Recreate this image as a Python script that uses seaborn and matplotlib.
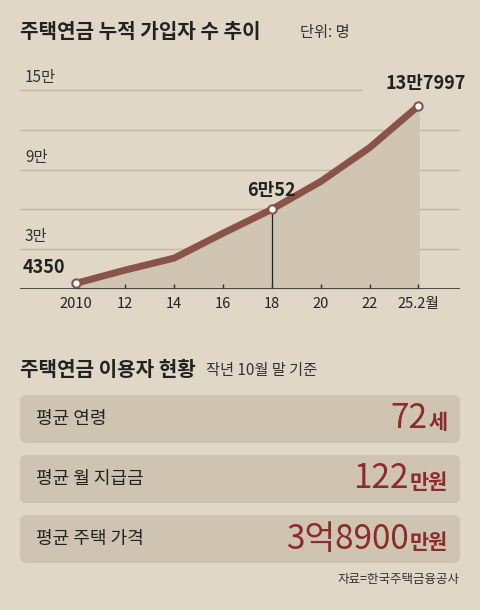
import matplotlib
matplotlib.use("Agg")
import matplotlib.pyplot as plt
import seaborn as sns
import pandas as pd
from matplotlib.patches import FancyBboxPatch

years = ["2010", "12", "14", "16", "18", "20", "22", "25.2월"]
members = [4350, 14250, 23250, 42000, 60052, 81000, 106500, 137997]
ytick_vals = [30000, 90000, 150000]
ytick_labels = ["3만", "9만", "15만"]
stat_labels = ["평균 연령", "평균 월 지급금", "평균 주택 가격"]
stat_nums = ["72", "122", "3억8900"]
stat_units = ["세", "만원", "만원"]

sns.set_theme(style="white")
plt.rcParams['font.family'] = ['Noto Sans CJK KR', 'DejaVu Sans']
BG = "#e0d7c6"
BOX = "#cfc4b1"
LINE = "#8a5349"
RED = "#8b2b2b"

df = pd.DataFrame({"x": range(len(years)), "y": members})
fig = plt.figure(figsize=(4.8, 6.1), dpi=100, facecolor=BG)
W, H = 480, 610
ax = fig.add_axes([20/W, (H-289)/H, 440/W, 199/H])
ax.set_facecolor(BG)
ax.set_xlim(-1.15, 7.85)
ax.set_ylim(0, 150000)
for v in [30000, 60000, 90000, 120000]:
    ax.axhline(v, color="#c2b7a4", lw=1, zorder=0)
ax.axhline(150000, xmax=(362-20)/440, color="#c2b7a4", lw=1, zorder=0, clip_on=False)
ax.fill_between(df["x"], df["y"], color="#d0c5b2", zorder=1)
sns.lineplot(data=df, x="x", y="y", ax=ax, color=LINE, lw=5, zorder=3)
for i in [0, 4, 7]:
    ax.plot(i, members[i], "o", ms=6, mfc="white", mec=LINE, mew=1.5, zorder=4)
ax.vlines(4, 0, members[4], color="#222222", lw=0.9, zorder=2)
for i in range(1, len(years)):
    ax.vlines(i, 0, 3500, color="#333333", lw=1, zorder=2)
ax.axhline(0, color="#333333", lw=1.2, zorder=5)
ax.set_xticks(range(len(years)))
ax.set_xticklabels(years, fontsize=10.5, color="#222222")
ax.tick_params(axis="x", length=0, pad=6)
ax.set_yticks([])
ax.set_xlabel(""); ax.set_ylabel("")
for s in ax.spines.values():
    s.set_visible(False)
for v, l in zip(ytick_vals, ytick_labels):
    ax.text(-1.05, v + 3000, l, fontsize=11, color="#333333", va="bottom")
ax.text(-1.1, members[0] + 5000, f"{members[0]}", fontsize=13, fontweight="bold", va="bottom", color="#222222")
ax.text(4, members[4] + 7000, "6만52", fontsize=13, fontweight="bold", ha="center", va="bottom", color="#222222")
ax.text(7.15, members[7] + 10000, "13만7997", fontsize=13, fontweight="bold", ha="center", va="bottom", color="#222222")

fig.text(20/W, 1-32/H, "주택연금 누적 가입자 수 추이", fontsize=14.5, fontweight="bold", va="center", color="#222222")
fig.text(300/W, 1-33/H, "단위: 명", fontsize=11, va="center", color="#333333")
fig.text(20/W, 1-370/H, "주택연금 이용자 현황", fontsize=14.5, fontweight="bold", va="center", color="#222222")
fig.text(206/W, 1-371/H, "작년 10월 말 기준", fontsize=11, va="center", color="#333333")

tops = [395, 455, 515]
for t, lab, num, unit in zip(tops, stat_labels, stat_nums, stat_units):
    h = 48
    box = FancyBboxPatch((20/W, 1-(t+h)/H), 440/W, h/H, boxstyle="round,pad=0,rounding_size=0.012",
                         transform=fig.transFigure, facecolor=BOX, edgecolor="none")
    fig.patches.append(box)
    cy = 1-(t+h/2)/H
    fig.text(36/W, cy, lab, fontsize=13, va="center", color="#222222")
    ut = fig.text(448/W, cy - 0.006, unit, fontsize=15, fontweight="bold", ha="right", va="center", color=RED)
    fig.canvas.draw()
    bb = ut.get_window_extent()
    fig.text((bb.x0 - 1)/W, cy, num, fontsize=24, ha="right", va="center", color=RED)

fig.text(460/W, 1-580/H, "자료=한국주택금융공사", fontsize=9, ha="right", va="center", color="#333333")
fig.savefig("out.png", dpi=100, facecolor=BG)
